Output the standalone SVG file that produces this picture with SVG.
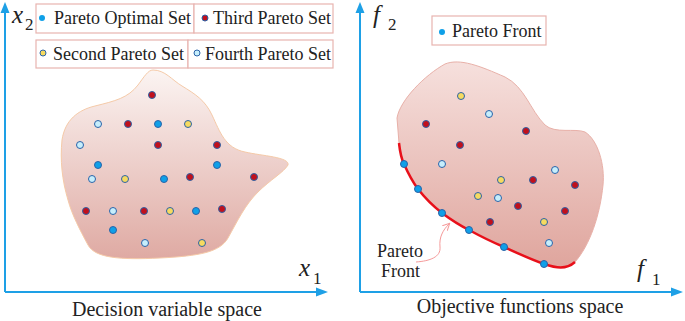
<svg xmlns="http://www.w3.org/2000/svg" width="685" height="321" viewBox="0 0 685 321">
<style>
.ax{stroke:#1ea0e6;stroke-width:2;fill:none}
.ah{fill:#1ea0e6}
.lg{fill:#fff;stroke:#e8b4b0;stroke-width:1.2}
.tx{font-family:'Liberation Serif','Times New Roman',serif;font-size:18px;fill:#222}
.cap{font-family:'Liberation Serif','Times New Roman',serif;font-size:20px;fill:#222}
.it{font-family:'Liberation Serif','Times New Roman',serif;font-style:italic;font-size:25px;fill:#222}
.sub{font-family:'Liberation Serif','Times New Roman',serif;font-size:17px;fill:#222}
.d{stroke:#2a63a8;stroke-width:1}
.o{fill:#0fa0e8}
.t{fill:#c0101c}
.s{fill:#f6da60}
.f{fill:#c6eefc}
</style>
<defs>
<linearGradient id="g1" x1="0" y1="0" x2="0" y2="1">
<stop offset="0" stop-color="#fbf4f2"/>
<stop offset="1" stop-color="#dfaaa3"/>
</linearGradient>
<linearGradient id="g2" x1="0" y1="0" x2="0" y2="1">
<stop offset="0" stop-color="#f6e0dd"/>
<stop offset="1" stop-color="#dfa59d"/>
</linearGradient>
<marker id="pa" markerWidth="8" markerHeight="8" refX="6" refY="4" orient="auto" markerUnits="userSpaceOnUse">
<path d="M0,0.5 L7,4 L0,7.5" fill="none" stroke="#f59a9a" stroke-width="1"/>
</marker>
</defs>

<g id="left-axes">
<line class="ax" x1="5" y1="292" x2="5" y2="12"/>
<polygon class="ah" points="5,2 0.5,13 9.5,13"/>
<line class="ax" x1="5" y1="292" x2="318" y2="292"/>
<polygon class="ah" points="328,292 316,287.5 316,296.5"/>
<text class="it" x="12" y="22.5">x</text><text class="sub" x="25" y="29.5">2</text>
<text class="it" x="299" y="276">x</text><text class="sub" x="313" y="284">1</text>
<text class="cap" x="167" y="316" text-anchor="middle">Decision variable space</text>
</g>

<g id="left-legend">
<rect class="lg" x="36" y="4" width="158" height="29"/>
<rect class="lg" x="194" y="4" width="139" height="29"/>
<rect class="lg" x="36" y="40" width="152" height="28"/>
<rect class="lg" x="188" y="40" width="145" height="28"/>
<circle class="o" cx="42" cy="18" r="3"/>
<text class="tx" x="54" y="24">Pareto Optimal Set</text>
<circle class="t d" cx="205" cy="18" r="3"/>
<text class="tx" x="213" y="24">Third Pareto Set</text>
<circle class="s d" cx="43" cy="53" r="3"/>
<text class="tx" x="53" y="60">Second Pareto Set</text>
<circle class="f d" cx="197" cy="53" r="3"/>
<text class="tx" x="205" y="60">Fourth Pareto Set</text>
</g>

<g id="left-region">
<path d="M153,70 C165,70 172,80 182,86 C195,94 205,100 212,115 C220,132 225,148 245,152 C262,156 290,157 288,165 C284,172 270,180 258,192 C245,205 238,220 228,238 C220,252 200,256 160,258 C120,260 95,258 88,245 C80,230 72,215 68,200 C62,180 60,160 62,140 C65,120 78,110 95,106 C115,101 128,98 138,85 C144,77 148,70 153,70 Z" fill="url(#g1)" stroke="#f5caa8" stroke-width="1"/>
<g id="left-dots">
<circle class="d t" cx="152" cy="95" r="3.5"/>
<circle class="d f" cx="98" cy="124" r="3.5"/>
<circle class="d t" cx="128" cy="124" r="3.5"/>
<circle class="d o" cx="158" cy="124" r="3.5"/>
<circle class="d s" cx="188" cy="124" r="3.5"/>
<circle class="d f" cx="80" cy="145" r="3.5"/>
<circle class="d t" cx="158" cy="145" r="3.5"/>
<circle class="d t" cx="217" cy="145" r="3.5"/>
<circle class="d o" cx="98" cy="165" r="3.5"/>
<circle class="d o" cx="217" cy="165" r="3.5"/>
<circle class="d f" cx="92" cy="179" r="3.5"/>
<circle class="d s" cx="125" cy="179" r="3.5"/>
<circle class="d o" cx="164" cy="179" r="3.5"/>
<circle class="d t" cx="190" cy="177" r="3.5"/>
<circle class="d t" cx="254" cy="177" r="3.5"/>
<circle class="d t" cx="86" cy="211" r="3.5"/>
<circle class="d f" cx="113" cy="211" r="3.5"/>
<circle class="d t" cx="144" cy="211" r="3.5"/>
<circle class="d s" cx="170" cy="211" r="3.5"/>
<circle class="d o" cx="196" cy="211" r="3.5"/>
<circle class="d t" cx="222" cy="209" r="3.5"/>
<circle class="d o" cx="113" cy="230" r="3.5"/>
<circle class="d f" cx="145" cy="243" r="3.5"/>
<circle class="d s" cx="202" cy="243" r="3.5"/>
</g>
</g>

<g id="right-axes">
<line class="ax" x1="360" y1="292" x2="360" y2="12"/>
<polygon class="ah" points="360,2 355.5,13 364.5,13"/>
<line class="ax" x1="360" y1="292" x2="673" y2="292"/>
<polygon class="ah" points="683,292 671,287.5 671,296.5"/>
<text class="it" x="373" y="23">f</text><text class="sub" x="388" y="30">2</text>
<text class="it" x="637" y="277">f</text><text class="sub" x="652" y="285">1</text>
<text class="cap" x="520" y="313" text-anchor="middle">Objective functions space</text>
</g>

<g id="right-legend">
<rect class="lg" x="432" y="16" width="114" height="29"/>
<circle class="o" cx="442" cy="32" r="3"/>
<text class="tx" x="452" y="37">Pareto Front</text>
</g>

<g id="right-region">
<path d="M399,143 L397,118 C400,100 425,75 445,64 C460,58 480,66 505,77 C525,87 530,110 545,125 C555,134 575,128 585,132 C598,140 605,165 603,185 C600,215 590,245 575,262 C566,270 556,268 544,264 C530,259 517,253 504,247 C492,242 480,236 469,230 C459,225 450,219 442,213 C433,206 425,198 418,189 C412,181 408,173 404,164 C401,158 400,152 399,143 Z" fill="url(#g2)" stroke="#e8b0a8" stroke-width="1"/>
<path id="front" d="M399,143 C400,152 401,158 404,164 C408,173 412,181 418,189 C425,198 433,206 442,213 C450,219 459,225 469,230 C480,236 492,242 504,247 C517,253 530,259 544,264 C556,268 566,270 575,262" fill="none" stroke="#e8101a" stroke-width="2.5"/>
<g id="right-dots">
<circle class="d s" cx="461" cy="96" r="3.5"/>
<circle class="d f" cx="489" cy="114" r="3.5"/>
<circle class="d t" cx="426" cy="124" r="3.5"/>
<circle class="d t" cx="526" cy="131" r="3.5"/>
<circle class="d t" cx="460" cy="145" r="3.5"/>
<circle class="d f" cx="442" cy="164" r="3.5"/>
<circle class="d f" cx="555" cy="170" r="3.5"/>
<circle class="d s" cx="501" cy="180" r="3.5"/>
<circle class="d t" cx="533" cy="180" r="3.5"/>
<circle class="d t" cx="575" cy="185" r="3.5"/>
<circle class="d s" cx="478" cy="196" r="3.5"/>
<circle class="d f" cx="498" cy="198" r="3.5"/>
<circle class="d t" cx="518" cy="206" r="3.5"/>
<circle class="d t" cx="565" cy="211" r="3.5"/>
<circle class="d t" cx="490" cy="222" r="3.5"/>
<circle class="d s" cx="544" cy="222" r="3.5"/>
<circle class="d f" cx="549" cy="243" r="3.5"/>
<circle class="d o" cx="404" cy="164" r="3.5"/>
<circle class="d o" cx="418" cy="189" r="3.5"/>
<circle class="d o" cx="442" cy="213" r="3.5"/>
<circle class="d o" cx="469" cy="230" r="3.5"/>
<circle class="d o" cx="504" cy="247" r="3.5"/>
<circle class="d o" cx="544" cy="264" r="3.5"/>
</g>
</g>

<g id="connectors">
<path d="M416,262 C430,261 441,257 440,247 C439,237 443,230 449,224" fill="none" stroke="#f59a9a" stroke-width="1" marker-end="url(#pa)"/>
</g>

<g id="front-label">
<text class="tx" x="377" y="257">Pareto</text>
<text class="tx" x="381" y="277">Front</text>
</g>
</svg>
